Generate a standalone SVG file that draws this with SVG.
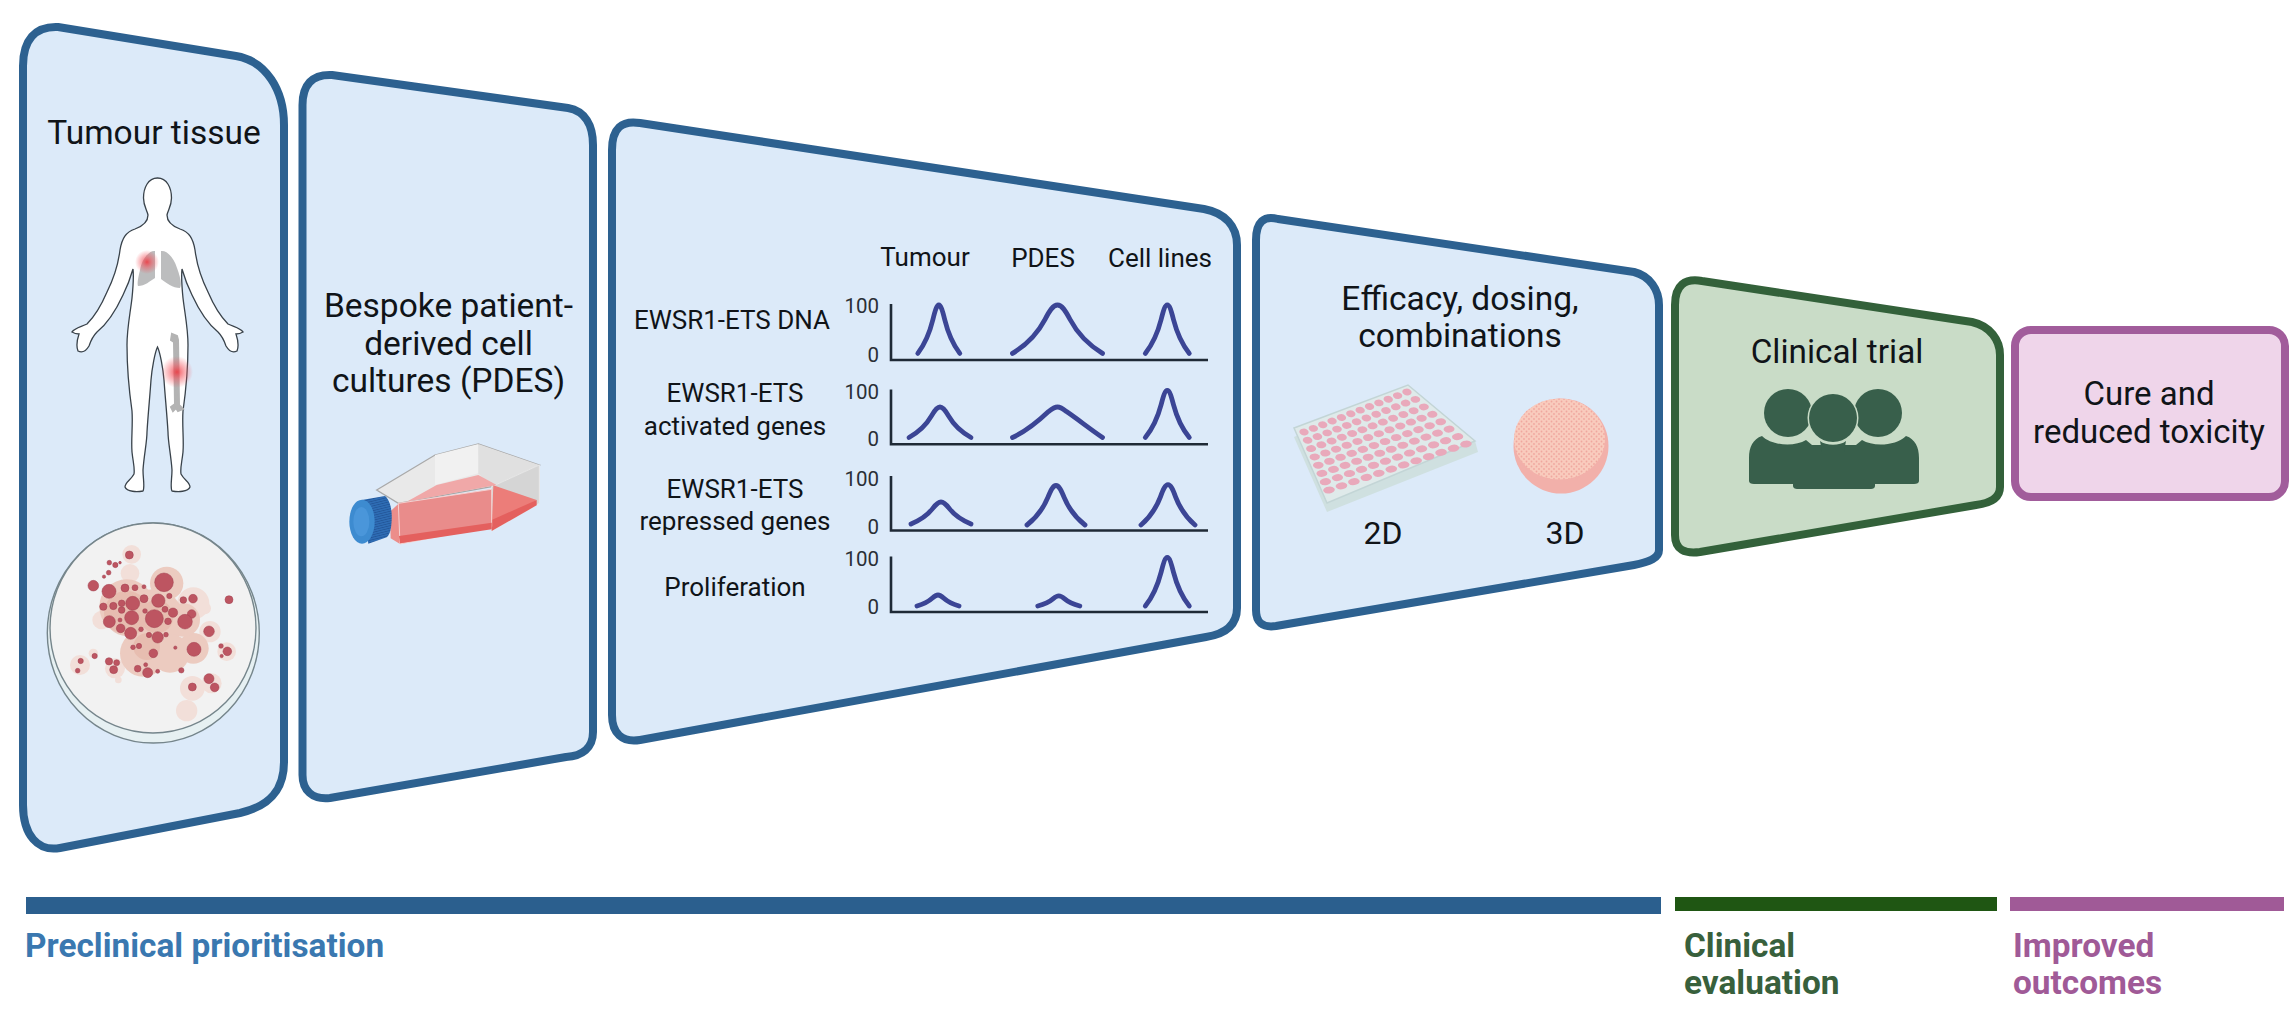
<svg xmlns="http://www.w3.org/2000/svg" width="2294" height="1013" viewBox="0 0 2294 1013">
<style>
text{font-family:Roboto,"Liberation Sans",sans-serif;fill:#101418}
.m{text-anchor:middle}
.t33{font-size:33.5px}
.t25{font-size:26px}
.tick{font-size:20.5px;text-anchor:end;fill:#2a2f36}
.panel{stroke-width:8;stroke-linejoin:round}
.blue{fill:#dceaf9;stroke:#2d6190}
.green{fill:#c9dcc7;stroke:#33613a}
.purple{fill:#efd5ea;stroke:#a15c9b}
.axis{fill:none;stroke:#1f2a36;stroke-width:2.6}
.bell{fill:none;stroke:#3b4595;stroke-width:4.8;stroke-linecap:round;vector-effect:non-scaling-stroke}
.lab{font-size:33.4px;font-weight:700}
.col{fill:#bd5561;stroke:#a03f4e;stroke-width:1.5}
.well{fill:#e9a9bb}
.ppl{fill:#385f4b}
</style>
<defs>
<radialGradient id="glow"><stop offset="0" stop-color="#f0343c" stop-opacity=".85"/><stop offset=".45" stop-color="#f4505a" stop-opacity=".5"/><stop offset="1" stop-color="#f4505a" stop-opacity="0"/></radialGradient>
<pattern id="dots" patternUnits="userSpaceOnUse" width="5" height="5"><rect width="5" height="5" fill="#f9cbbd"/><circle cx="1.5" cy="1.5" r=".9" fill="#f0a79f"/><circle cx="4" cy="4" r=".9" fill="#f0a79f"/></pattern>
<pattern id="ribs" patternUnits="userSpaceOnUse" width="7" height="7" patternTransform="rotate(-14)"><rect width="7" height="7" fill="#2e6cb4"/><rect width="7" height="2.4" fill="#23579a"/></pattern>
<path id="b" class="bell" d="M-1,0C-.65,-.2 -.45,-.4 -.28,-.7C-.18,-.88 -.1,-1 0,-1C.1,-1 .18,-.88 .28,-.7C.45,-.4 .65,-.2 1,0"/>
<path id="t" class="bell" d="M-1,0C-.7,-.2 -.45,-.5 -.2,-.85C-.1,-.97 -.05,-1 0,-1C.05,-1 .1,-.97 .2,-.85C.45,-.6 .7,-.3 1,0"/>
<g id="wellrow"><circle class="well" cx="0" r="4.2"/><circle class="well" cx="10" r="4.2"/><circle class="well" cx="20" r="4.2"/><circle class="well" cx="30" r="4.2"/><circle class="well" cx="40" r="4.2"/><circle class="well" cx="50" r="4.2"/><circle class="well" cx="60" r="4.2"/><circle class="well" cx="70" r="4.2"/><circle class="well" cx="80" r="4.2"/><circle class="well" cx="90" r="4.2"/><circle class="well" cx="100" r="4.2"/><circle class="well" cx="110" r="4.2"/></g>
</defs>
<rect width="2294" height="1013" fill="#fff"/>

<g id="node-tumour">
<path class="panel blue" d="M23,66C23,40 35,26 58,27L236,56C266,61 284,90 284,125V762C284,790 270,806 240,813L60,848C38,852 23,835 23,805Z"/>
<text class="t33 m" x="154" y="144">Tumour tissue</text>
<path d="M157.5,178C167,178 171.5,188 171.5,198C171.5,206 168,210 167,215C167,221 172,226 180,229C189,232 193,238 195,250C197,266 202,280 208,292C214,306 222,318 228,324C234,327 240,328 243,332C240,334 238,334 236,334C238,340 239,346 237,351C233,353 229,351 226,346C224,340 222,336 218,332C208,324 198,308 192,295C187,285 184,276 182,269C181,278 182,288 183,298C185,315 188,328 188,345C188,365 186,390 183,411C182,425 184,440 183,452C182,462 180,468 181,474C184,480 190,482 190,487C188,492 178,492 172,491C170,488 172,478 172,470C171,455 168,442 168,432C167,415 165,395 164,380C163,368 160,352 157.5,347C155,352 152,368 151,380C150,395 148,415 147,432C147,442 144,455 143,470C143,478 145,488 143,491C137,492 127,492 125,487C125,482 131,480 134,474C135,468 133,462 132,452C131,440 133,425 132,411C129,390 127,365 127,345C127,328 130,315 132,298C133,288 134,278 133,269C131,276 128,285 123,295C117,308 107,324 97,332C93,336 91,340 89,346C86,351 82,353 78,351C76,346 77,340 79,334C77,334 75,334 72,332C75,328 81,327 87,324C93,318 101,306 107,292C113,280 118,266 120,250C122,238 126,232 135,229C143,226 148,221 148,215C147,210 143.5,206 143.5,198C143.5,188 148,178 157.5,178Z" fill="#fff" stroke="#39424a" stroke-width="1.3"/>
<path d="M155,251C150,250 142,258 140,270C138,278 137,284 138,286C145,286 150,281 155,278Z" fill="#bcbdbe"/>
<path d="M161,251C167,250 174,258 177,268C180,276 182,284 180,288C173,288 166,283 161,279Z" fill="#bcbdbe"/>
<path d="M172,334L177,336L178,340L179,405L183,409L178,411L176,408L173,411L171,407L175,404L174,342L171,340Z" fill="#b3b3b3" stroke="#b3b3b3" stroke-width="2"/>
<circle cx="147" cy="262" r="12" fill="url(#glow)"/>
<circle cx="177" cy="372" r="16" fill="url(#glow)"/>
<g id="petri-dish">
<ellipse cx="153.3" cy="633" rx="106" ry="110" fill="#e6f0f2" stroke="#75858b" stroke-width="1.4"/>
<ellipse cx="153" cy="628" rx="103" ry="105" fill="#f2f2f2" stroke="#75858b" stroke-width="1.4"/>
<g transform="translate(30,520) scale(.33333)">
<g fill="#f2dfd9">
<circle cx="300" cy="160" r="28"/><circle cx="305" cy="103" r="28"/><circle cx="150" cy="435" r="30"/><circle cx="255" cy="445" r="30"/><circle cx="487" cy="505" r="37"/><circle cx="545" cy="490" r="30"/><circle cx="470" cy="572" r="32"/><circle cx="590" cy="395" r="28"/><circle cx="540" cy="335" r="32"/><circle cx="490" cy="250" r="48"/><circle cx="525" cy="265" r="18"/><circle cx="215" cy="300" r="28"/><circle cx="190" cy="400" r="14"/><circle cx="265" cy="480" r="10"/>
</g>
<g fill="#eccbc0">
<circle cx="290" cy="260" r="82"/><circle cx="370" cy="300" r="92"/><circle cx="340" cy="400" r="70"/><circle cx="420" cy="400" r="58"/><circle cx="410" cy="190" r="50"/><circle cx="490" cy="385" r="46"/><circle cx="460" cy="300" r="50"/>
</g>
<g fill="#e6b8aa" opacity=".7">
<circle cx="290" cy="280" r="68"/><circle cx="380" cy="290" r="50"/><circle cx="350" cy="380" r="40"/>
</g>
<circle class="col" cx="298" cy="105" r="12"/><circle class="col" cx="238" cy="128" r="7"/><circle class="col" cx="256" cy="135" r="8"/><circle class="col" cx="270" cy="128" r="4"/><circle class="col" cx="236" cy="158" r="7"/><circle class="col" cx="222" cy="170" r="5"/><circle class="col" cx="190" cy="197" r="16"/><circle class="col" cx="237" cy="214" r="21"/><circle class="col" cx="285" cy="204" r="12"/><circle class="col" cx="315" cy="203" r="9"/><circle class="col" cx="342" cy="200" r="6"/><circle class="col" cx="402" cy="187" r="28"/><circle class="col" cx="342" cy="236" r="12"/><circle class="col" cx="385" cy="242" r="20"/><circle class="col" cx="418" cy="228" r="8"/><circle class="col" cx="460" cy="240" r="10"/><circle class="col" cx="489" cy="236" r="13"/><circle class="col" cx="597" cy="239" r="12"/><circle class="col" cx="220" cy="260" r="11"/><circle class="col" cx="250" cy="258" r="11"/><circle class="col" cx="275" cy="250" r="10"/><circle class="col" cx="308" cy="250" r="21"/><circle class="col" cx="238" cy="305" r="18"/><circle class="col" cx="275" cy="270" r="10"/><circle class="col" cx="305" cy="293" r="21"/><circle class="col" cx="345" cy="273" r="7"/><circle class="col" cx="270" cy="300" r="6"/><circle class="col" cx="373" cy="296" r="27"/><circle class="col" cx="405" cy="268" r="9"/><circle class="col" cx="429" cy="278" r="14"/><circle class="col" cx="485" cy="282" r="13"/><circle class="col" cx="465" cy="305" r="22"/><circle class="col" cx="414" cy="304" r="10"/><circle class="col" cx="272" cy="325" r="13"/><circle class="col" cx="302" cy="340" r="18"/><circle class="col" cx="333" cy="328" r="7"/><circle class="col" cx="357" cy="345" r="8"/><circle class="col" cx="383" cy="352" r="17"/><circle class="col" cx="408" cy="344" r="7"/><circle class="col" cx="537" cy="334" r="16"/><circle class="col" cx="309" cy="382" r="7"/><circle class="col" cx="327" cy="378" r="8"/><circle class="col" cx="370" cy="400" r="13"/><circle class="col" cx="492" cy="388" r="21"/><circle class="col" cx="436" cy="383" r="5"/><circle class="col" cx="573" cy="378" r="7"/><circle class="col" cx="592" cy="394" r="13"/><circle class="col" cx="575" cy="408" r="5"/><circle class="col" cx="152" cy="423" r="8"/><circle class="col" cx="143" cy="452" r="7"/><circle class="col" cx="194" cy="408" r="8"/><circle class="col" cx="237" cy="424" r="11"/><circle class="col" cx="260" cy="428" r="9"/><circle class="col" cx="251" cy="449" r="12"/><circle class="col" cx="323" cy="446" r="10"/><circle class="col" cx="347" cy="434" r="6"/><circle class="col" cx="353" cy="458" r="15"/><circle class="col" cx="383" cy="454" r="6"/><circle class="col" cx="454" cy="451" r="8"/><circle class="col" cx="537" cy="476" r="15"/><circle class="col" cx="554" cy="502" r="13"/><circle class="col" cx="487" cy="501" r="12"/>
</g>
</g>
</g>

<g id="node-cultures">
<path class="panel blue" d="M302.5,105C302.5,85 312,74 332,75L568,108C585,111 593,125 593,145V732C593,748 582,756 566,757L330,798C312,800 302.5,790 302.5,775Z"/>
<text class="t33 m" x="448.5" y="317">Bespoke patient-</text>
<text class="t33 m" x="448.5" y="355">derived cell</text>
<text class="t33 m" x="448.5" y="392">cultures (PDES)</text>
<g id="flask" transform="translate(330,420) scale(.33333)">
<path d="M140,210L315,105L445,72L628,135L485,200L205,250Z" fill="#e9e9e9" stroke="#a9a9a9" stroke-width="4"/>
<path d="M315,105L445,72V160L315,195Z" fill="#f1f1f1"/>
<path d="M445,72L628,135L485,200L445,160Z" fill="#e0e0e0"/>
<path d="M485,200L628,135V250L485,333Z" fill="#d5d5d5" stroke="#e8e8e8" stroke-width="3"/>
<path d="M230,245L320,195L445,165L500,195L205,250Z" fill="#f0a8a8"/>
<path d="M490,196L620,240L485,322Z" fill="#ec7d79"/>
<path d="M485,300L620,240V256L485,333Z" fill="#e4605e"/>
<path d="M180,275L207,250L210,372L182,355Z" fill="#ec8d8a"/>
<path d="M205,250L485,208V320L210,372Z" fill="#e98c8b" stroke="#f5d0cf" stroke-width="3"/>
<path d="M207,348L485,308V328L210,370Z" fill="#e4605e"/>
<path d="M95,240L165,228C180,240 187,270 185,300C184,325 180,345 170,352L115,371Z" fill="url(#ribs)"/>
<ellipse cx="96" cy="305" rx="38" ry="66" fill="#3d8bd0"/>
<ellipse cx="94" cy="305" rx="24" ry="44" fill="#4a96da"/>
</g>
</g>

<g id="node-signatures">
<path class="panel blue" d="M612,150C612,128 622,120 640,123L1204,209C1225,213 1237,226 1237,245V608C1237,625 1225,634 1206,637L640,740C622,743 612,733 612,715Z"/>
<text class="t25 m" x="925" y="266">Tumour</text>
<text class="t25 m" x="1043" y="267">PDES</text>
<text class="t25 m" x="1160" y="267">Cell lines</text>
<text class="t25 m" x="732" y="329">EWSR1-ETS DNA</text>
<text class="t25 m" x="735" y="402">EWSR1-ETS</text>
<text class="t25 m" x="735" y="435">activated genes</text>
<text class="t25 m" x="735" y="498">EWSR1-ETS</text>
<text class="t25 m" x="735" y="530">repressed genes</text>
<text class="t25 m" x="735" y="596">Proliferation</text>
<text class="tick" x="879" y="313">100</text><text class="tick" x="879" y="362">0</text>
<text class="tick" x="879" y="399">100</text><text class="tick" x="879" y="446">0</text>
<text class="tick" x="879" y="485.5">100</text><text class="tick" x="879" y="533.5">0</text>
<text class="tick" x="879" y="566">100</text><text class="tick" x="879" y="613.5">0</text>
<path class="axis" d="M891,304V360H1208M891,389.5V444.3H1208M891,476V530.5H1208M891,556.6V612H1208"/>
<use href="#b" transform="translate(938.8,353.4) scale(21,48.4)"/>
<use href="#b" transform="translate(1057.5,353.4) scale(45,48.4)"/>
<use href="#b" transform="translate(1167.3,353.4) scale(22,48.4)"/>
<use href="#b" transform="translate(940,437.5) scale(31,30.5)"/>
<use href="#t" transform="translate(1057.5,437.5) scale(45,30.5)"/>
<use href="#b" transform="translate(1167.3,437.5) scale(22,47)"/>
<use href="#b" transform="translate(941,524) scale(30,22)"/>
<use href="#b" transform="translate(1056,525) scale(29,39.5)"/>
<use href="#b" transform="translate(1168,525) scale(27,40.3)"/>
<use href="#b" transform="translate(938,606) scale(21,11)"/>
<use href="#b" transform="translate(1058.8,606) scale(21,10.2)"/>
<use href="#b" transform="translate(1167.3,606) scale(22,48.5)"/>
</g>

<g id="node-efficacy">
<path class="panel blue" d="M1256,240C1256,222 1264,215 1278,219L1634,272C1650,276 1659,290 1659,305V550C1659,558 1650,562 1634,565L1276,626C1262,628 1256,622 1256,610Z"/>
<text class="t33 m" x="1460" y="310">Efficacy, dosing,</text>
<text class="t33 m" x="1460" y="347">combinations</text>
<g id="well-plate">
<path d="M1294,437L1327,512L1478,452L1475,441L1408,385Z" fill="#cfe0e0"/>
<path d="M1294,428L1408,385L1475,441L1327,503Z" fill="#dfeaea" stroke="#c3d5d6" stroke-width="1.5"/>
<use href="#wellrow" transform="matrix(.936,-.364,.6,.7,1304,432)"/>
<use href="#wellrow" transform="matrix(.98,-.372,.6,.7,1307.6,440.3)"/>
<use href="#wellrow" transform="matrix(1.025,-.379,.6,.7,1311.1,448.6)"/>
<use href="#wellrow" transform="matrix(1.069,-.387,.6,.7,1314.7,456.9)"/>
<use href="#wellrow" transform="matrix(1.113,-.395,.6,.7,1318.3,465.2)"/>
<use href="#wellrow" transform="matrix(1.156,-.403,.6,.7,1321.9,473.4)"/>
<use href="#wellrow" transform="matrix(1.202,-.41,.6,.7,1325.4,481.7)"/>
<use href="#wellrow" transform="matrix(1.245,-.418,.6,.7,1329,490)"/>
</g>
<g id="spheroid">
<circle cx="1561" cy="446" r="47.5" fill="#f2b0aa"/>
<ellipse cx="1559.5" cy="439" rx="45.5" ry="40.5" fill="url(#dots)"/>
</g>
<text class="m" style="font-size:32px" x="1383" y="544">2D</text>
<text class="m" style="font-size:32px" x="1565" y="544">3D</text>
</g>

<g id="node-trial">
<path class="panel green" d="M1675,305C1675,285 1685,278 1702,281L1972,322C1990,326 2000,340 2000,355V487C2000,497 1992,503 1976,505L1700,552C1685,554 1675,550 1675,535Z"/>
<text class="m" style="font-size:33.3px" x="1837" y="363">Clinical trial</text>
<g id="people">
<path class="ppl" d="M1749,481V458C1749,447 1753,439 1762,436C1772,446 1795,447 1806,440L1812,445V484H1754C1751,484 1749,483 1749,481Z"/>
<path class="ppl" d="M1919,481V458C1919,447 1915,439 1906,436C1896,446 1873,447 1862,440L1856,445V484H1914C1917,484 1919,483 1919,481Z"/>
<path class="ppl" d="M1793,445H1875V486C1875,488 1873,489 1871,489H1797C1795,489 1793,488 1793,486Z"/>
<circle class="ppl" cx="1788" cy="413" r="24"/>
<circle class="ppl" cx="1878" cy="413" r="24"/>
<circle cx="1833" cy="418" r="25.5" fill="#c9dcc7"/>
<circle class="ppl" cx="1833" cy="418" r="24"/>
<path class="ppl" d="M1820,441C1826,446 1840,446 1846,441L1844,452H1822Z"/>
</g>
</g>

<g id="node-outcome">
<rect class="panel purple" x="2015" y="330" width="270" height="167" rx="16"/>
<text class="m" style="font-size:33px" x="2149" y="405">Cure and</text>
<text class="m" style="font-size:33px" x="2149" y="443">reduced toxicity</text>
</g>

<g id="stage-bars">
<rect x="26" y="897" width="1635" height="17" fill="#2b5f8e"/>
<rect x="1675" y="897" width="322" height="14" fill="#1f5613"/>
<rect x="2010" y="897" width="274" height="14" fill="#a05a97"/>
<text class="lab" style="fill:#3a78b0" x="25" y="957">Preclinical prioritisation</text>
<text class="lab" style="fill:#38603c" x="1684" y="957">Clinical</text>
<text class="lab" style="fill:#38603c" x="1684" y="994">evaluation</text>
<text class="lab" style="fill:#a05a97" x="2013" y="957">Improved</text>
<text class="lab" style="fill:#a05a97" x="2013" y="994">outcomes</text>
</g>
</svg>
